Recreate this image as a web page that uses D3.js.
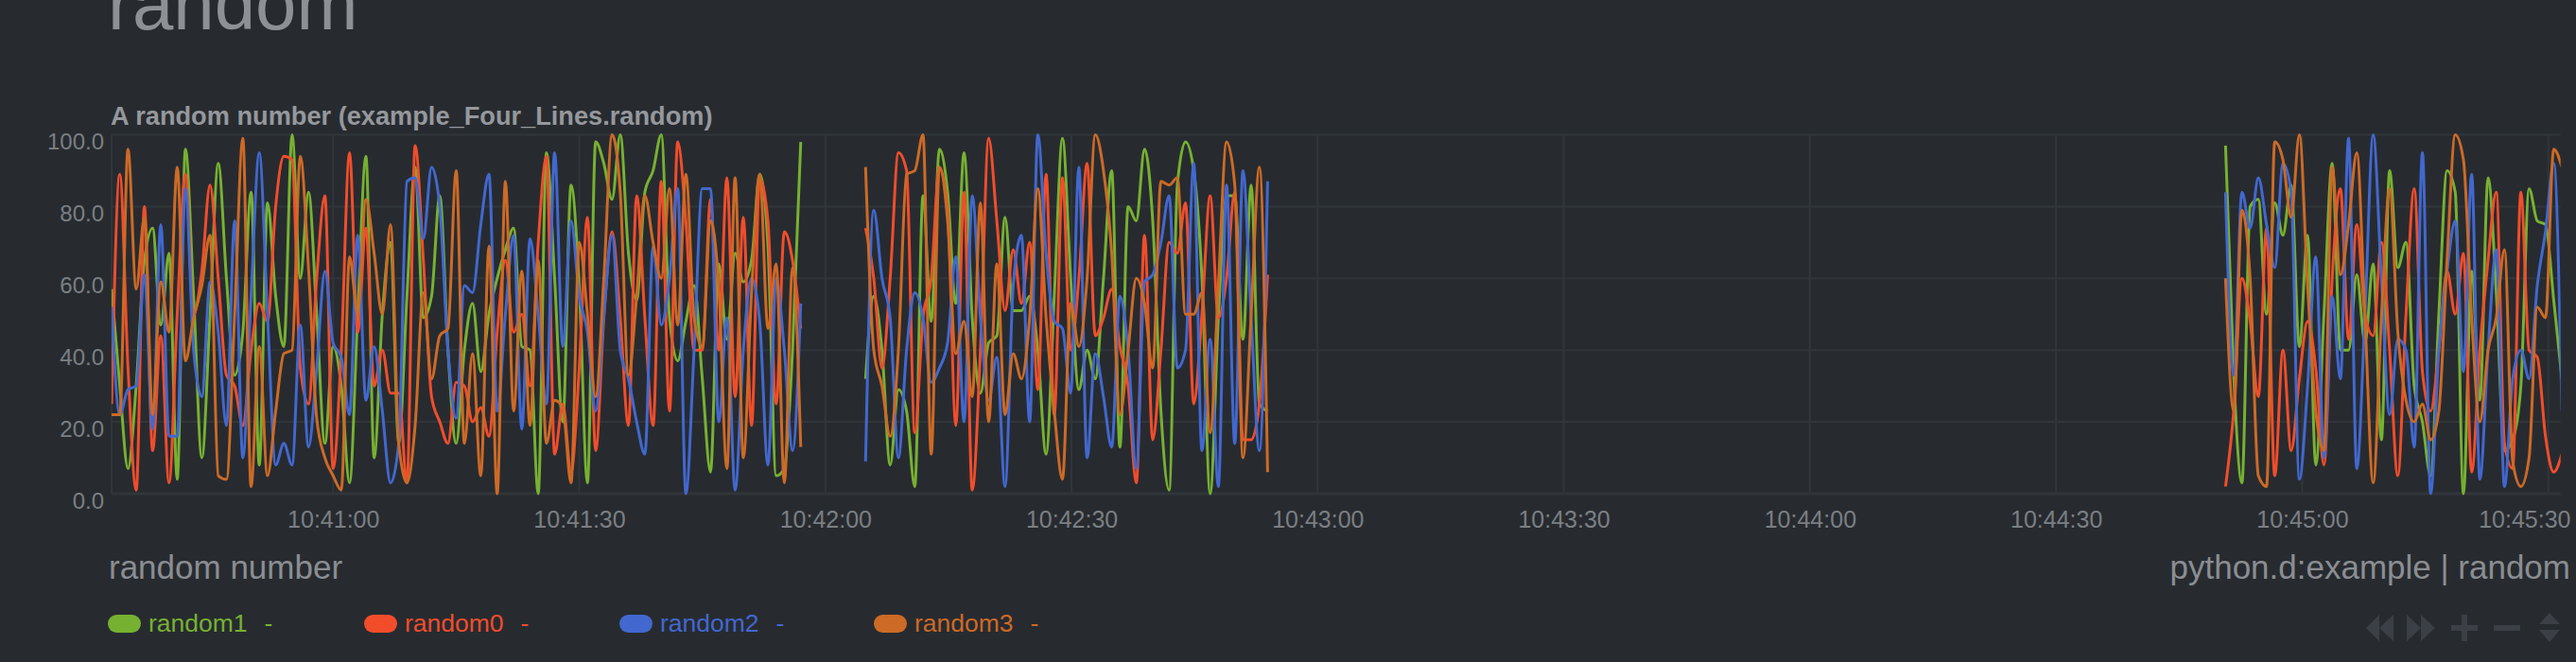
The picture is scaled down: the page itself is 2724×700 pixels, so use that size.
<!DOCTYPE html>
<html><head><meta charset="utf-8">
<script src="https://cdn.jsdelivr.net/npm/d3@7"></script>
<style>
html,body{margin:0;padding:0;background:#272b30;overflow:hidden;}
svg{display:block;}
text{font-family:"Liberation Sans",Arial,Helvetica,sans-serif;}
</style></head><body>
<svg id="chart" width="2724" height="700"></svg>
<script>
// ---------- data ----------
const pageTitle = "random";
const chartTitle = "A random number (example_Four_Lines.random)";
const unitsLabel = "random number";
const contextLabel = "python.d:example | random";
const seriesNames = ["random1", "random0", "random2", "random3"];
const seriesColors = ["#77b131", "#f24d2b", "#4268cf", "#cd6a26"];
const yTicks = [0, 20, 40, 60, 80, 100];
const xTickLabels = ["10:41:00","10:41:30","10:42:00","10:42:30","10:43:00","10:43:30","10:44:00","10:44:30","10:45:00","10:45:30"];
const xDomain = ["10:40:33.000", "10:45:31.500"];
const segmentStarts = ["10:40:33.000", "10:42:04.900", "10:44:50.660"];
const sampleStepSeconds = 1;

// random1 (green)
const random1_seg1 = [57,30,7,30,65,74,47,67,4,96, 55,10,50,92,60,33,45,84,8,81, 55,41,100,60,84,50,14,41,30,3, 50,94,10,50,70,14,55,91,49,55, 83,40,14,40,53,34,50,60,68,74, 41,40,0,95,60,20,86,58,3,98, 92,82,100,67,54,84,90,100,49,37, 48,58,32,6,64,43,67,59,65,89, 69,5,7,40,98];
const random1_seg2 = [32,55,40,8,29,23,2,83,48,96, 84,53,95,49,28,42,44,77,51,51, 55,40,11,55,99,60,29,40,32,60, 90,13,80,76,96,76,23,1,86,98, 90,60,0,49,83,83,43,86,25,23];
const random1_seg3 = [97,33,3,80,82,50,81,72,86,41, 72,8,50,92,40,40,61,42,64,15, 90,63,70,30,20,5,50,90,84,0, 62,26,88,56,12,15,30,85,76,75, 54,32];
// random0 (red)
const random0_seg1 = [25,89,35,1,80,12,44,3,50,89, 50,62,86,60,33,30,19,40,53,48, 80,94,93,35,25,60,83,7,40,95, 45,74,30,40,28,28,3,97,65,27, 20,14,31,30,20,24,16,45,65,45, 50,30,70,94,11,25,6,35,77,12, 49,73,49,19,83,49,19,87,23,98, 76,40,40,82,40,88,27,77,19,88, 76,25,73,65,46];
const random0_seg2 = [74,60,35,60,95,90,17,49,60,91, 79,19,84,1,40,99,76,51,68,53, 70,29,89,22,88,40,60,92,44,49, 57,41,30,3,72,15,40,70,67,81, 25,50,83,49,60,84,15,15,25,61];
const random0_seg3 = [2,23,60,48,27,74,5,40,12,32, 48,35,8,60,85,43,75,50,44,70, 40,5,50,85,34,23,40,62,50,67, 6,40,65,84,14,7,84,40,38,16, 6,11];
// random2 (blue)
const random2_seg1 = [52,22,29,30,61,18,75,16,16,85, 40,27,59,45,19,76,10,55,95,50, 8,14,8,47,13,35,62,42,38,22, 72,26,41,23,3,14,87,88,71,91, 80,40,21,58,56,75,89,23,50,72, 18,71,50,25,95,41,76,55,45,23, 50,72,40,32,20,11,69,47,60,85, 0,40,85,85,20,49,1,40,60,48, 8,60,40,12,53];
const random2_seg2 = [9,79,60,49,10,40,56,49,31,35, 42,66,20,83,49,26,38,2,58,72, 20,100,67,48,46,28,91,10,39,27, 13,55,40,7,59,61,70,83,35,40, 92,12,43,2,86,14,90,49,12,87];
const random2_seg3 = [84,33,84,74,88,75,63,92,84,4, 30,66,10,55,32,99,7,50,100,60, 22,43,40,13,95,0,40,62,76,34, 89,4,40,68,2,32,40,32,58,73, 92,23];
// random3 (orange)
const random3_seg1 = [22,22,96,57,77,22,59,45,91,37, 49,58,72,5,4,50,99,2,41,5, 23,39,40,94,63,21,10,5,1,66, 50,82,67,50,75,14,3,19,56,32, 44,46,90,14,39,5,69,0,87,23, 62,19,65,14,26,24,3,70,50,27, 60,100,84,33,55,83,70,60,85,47, 89,49,41,76,58,7,88,10,56,89, 46,64,3,63,13];
const random3_seg2 = [91,40,30,16,40,89,90,100,11,91, 76,39,48,27,81,20,64,22,39,32, 49,85,49,23,4,53,41,60,100,90, 67,22,40,60,53,35,87,86,88,50, 50,56,17,58,98,86,10,50,91,6];
const random3_seg3 = [60,23,79,60,5,2,98,93,77,100, 58,23,12,91,61,75,95,49,3,49, 85,45,26,20,25,15,23,65,100,93, 49,20,40,49,68,9,2,10,52,49, 96,91];

const seriesSegments = [
  [random1_seg1, random1_seg2, random1_seg3],
  [random0_seg1, random0_seg2, random0_seg3],
  [random2_seg1, random2_seg2, random2_seg3],
  [random3_seg1, random3_seg2, random3_seg3]
];

// ---------- layout ----------
const plot = {left: 118, right: 2707.7, top: 142.5, bottom: 522};
const gridColor = "#30363a";
const textGray = "#8b8e92";
const tickGray = "#7b7f83";

const parseMs = d3.timeParse("%H:%M:%S.%L");
const parseS = d3.timeParse("%H:%M:%S");

const svg = d3.select("#chart");
svg.append("rect").attr("width", 2724).attr("height", 700).attr("fill", "#272b30");

const x = d3.scaleTime().domain(xDomain.map(parseMs)).range([plot.left, plot.right]);
const y = d3.scaleLinear().domain([0, 100]).range([plot.bottom, plot.top]);

// titles
svg.append("text").attr("x", 114).attr("y", 31).attr("font-size", 78)
  .attr("fill", "#8d9094").text(pageTitle);
svg.append("text").attr("x", 117).attr("y", 132).attr("font-size", 27.2).attr("font-weight", "bold")
  .attr("fill", "#95989c").text(chartTitle);

// grid
const grid = svg.append("g");
grid.selectAll("line.h").data(yTicks).join("line")
  .attr("x1", plot.left).attr("x2", plot.right)
  .attr("y1", d => y(d)).attr("y2", d => y(d))
  .attr("stroke", gridColor).attr("stroke-width", d => d === 0 ? 3 : 2);
const xTickDates = xTickLabels.map(parseS);
grid.selectAll("line.v").data(xTickDates).join("line")
  .attr("x1", d => x(d)).attr("x2", d => x(d))
  .attr("y1", plot.top).attr("y2", plot.bottom)
  .attr("stroke", gridColor).attr("stroke-width", 2);
grid.append("line").attr("x1", plot.left).attr("x2", plot.left)
  .attr("y1", plot.top).attr("y2", plot.bottom).attr("stroke", gridColor).attr("stroke-width", 2);

// axes
const yAxis = svg.append("g").attr("transform", `translate(${plot.left},0)`)
  .call(d3.axisLeft(y).tickValues(yTicks).tickFormat(d3.format(".1f")).tickSize(0).tickPadding(8));
yAxis.select(".domain").remove();
yAxis.selectAll("text").attr("font-size", 24).attr("fill", tickGray).attr("dy", 15)
  .style("font-family", '"Liberation Sans",Arial,sans-serif');

const xAxis = svg.append("g").attr("transform", `translate(0,${plot.bottom})`)
  .call(d3.axisBottom(x).tickValues(xTickDates).tickFormat(d3.timeFormat("%H:%M:%S")).tickSize(0));
xAxis.select(".domain").remove();
xAxis.selectAll("text").attr("font-size", 25).attr("fill", tickGray).attr("y", 36).attr("dy", 0)
  .style("font-family", '"Liberation Sans",Arial,sans-serif');
xAxis.selectAll(".tick").each(function(d) {
  const t = d3.select(this).select("text");
  const px = x(d);
  const w = t.node().getComputedTextLength();
  if (px + w / 2 > 2718) t.attr("x", 2718 - w / 2 - px);
});

// lines
svg.append("clipPath").attr("id", "plotclip").append("rect")
  .attr("x", plot.left).attr("y", plot.top - 10).attr("width", plot.right - plot.left).attr("height", plot.bottom - plot.top + 20);
const line = d3.line().x(d => x(d.t)).y(d => y(d.v)).curve(d3.curveMonotoneX);
const lines = svg.append("g").attr("clip-path", "url(#plotclip)");
seriesSegments.forEach((segs, si) => {
  segs.forEach((vals, gi) => {
    const start = parseMs(segmentStarts[gi]).getTime();
    const pts = vals.map((v, i) => ({t: new Date(start + i * sampleStepSeconds * 1000), v}));
    lines.append("path").datum(pts).attr("d", line)
      .attr("fill", "none").attr("stroke", seriesColors[si]).attr("stroke-width", 3)
      .attr("stroke-linejoin", "round");
  });
});

// units + context
svg.append("text").attr("x", 115).attr("y", 612).attr("font-size", 35).attr("fill", textGray).text(unitsLabel);
svg.append("text").attr("x", 2718).attr("y", 612).attr("font-size", 35).attr("text-anchor", "end")
  .attr("fill", textGray).text(contextLabel);

// legend
const legendX = [114, 385, 655, 924];
const lg = svg.append("g");
seriesNames.forEach((name, i) => {
  const g = lg.append("g").attr("transform", `translate(${legendX[i]},0)`);
  g.append("rect").attr("x", 0).attr("y", 650).attr("width", 35).attr("height", 19).attr("rx", 9.5)
    .attr("fill", seriesColors[i]);
  const t = g.append("text").attr("x", 43).attr("y", 668).attr("font-size", 26.5).attr("fill", seriesColors[i]).text(name);
  const w = t.node().getComputedTextLength();
  g.append("text").attr("x", 43 + w + 18).attr("y", 668).attr("font-size", 26.5).attr("fill", seriesColors[i]).text("-");
});

// navigation icons
const ic = svg.append("g").attr("fill", "#3b4046");
ic.append("path").attr("d", "M2502,664 L2516,650 L2516,678 Z M2516,664 L2531,650 L2531,678 Z");
ic.append("path").attr("d", "M2545,650 L2560,664 L2545,678 Z M2560,650 L2575,664 L2560,678 Z");
ic.append("path").attr("d", "M2603,650 h6 v11 h11 v6 h-11 v11 h-6 v-11 h-11 v-6 h11 Z");
ic.append("rect").attr("x", 2637).attr("y", 661).attr("width", 28).attr("height", 6);
ic.append("path").attr("d", "M2696,648 L2707,660 L2685,660 Z M2685,666 L2707,666 L2696,679 Z");
</script>
</body></html>
